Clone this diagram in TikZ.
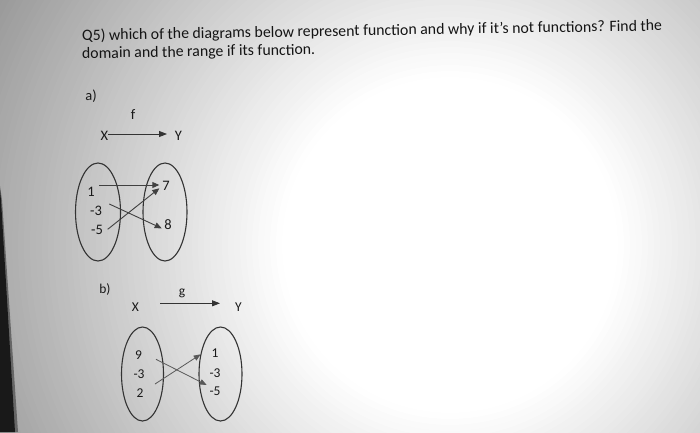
\documentclass[tikz,border=0pt]{standalone}
\usepackage{fontspec}
\setmainfont{Carlito}
\usetikzlibrary{arrows.meta}
\begin{document}
\begin{tikzpicture}[x=1pt,y=-1pt,
  title/.style={anchor=base west,inner sep=0pt,text=black!92,font=\fontsize{15.8}{18}\selectfont,rotate=0.97},
  lblA/.style={anchor=base,inner sep=0pt,text=black!90,font=\fontsize{14.5}{16}\selectfont},
  lblB/.style={anchor=base,inner sep=0pt,text=black!90,font=\fontsize{13.5}{15}\selectfont},
  setring/.style={draw=black!80,line width=1.1pt},
  mapA/.style={draw=black!75,line width=0.9pt,-{Triangle[length=7pt,width=6pt]}},
  mapB/.style={draw=black!65,line width=0.8pt,-{Triangle[length=7pt,width=5.5pt]}},
  headarrow/.style={draw=black!80,line width=0.9pt,-{Triangle[length=8pt,width=6pt]}}]
\useasboundingbox (0,0) rectangle (700,432);
% background
\begin{scope}
\clip (0,0) rectangle (700,432);
\foreach \r in {540,534,...,150}{
  \pgfmathsetmacro\g{min(42,max(0,(\r-170)*0.115))}
  \fill[black!\g] (450,245) circle (\r);
}
\fill[black!60] (0,186) -- (2,200) -- (18,432) -- (0,432) -- cycle;
\fill[black!90] (0,190) -- (1,200) -- (15,432) -- (0,432) -- cycle;
\end{scope}
% question
\node[title] (q1) at (82,40.5) {Q5) which of the diagrams below represent function and why if it’s not functions? Find the};
\node[title] (q2) at (82,58.5) {domain and the range if its function.};
% part a
\node[lblA] (pa) at (91,100) {a)};
\node[lblA] (fa) at (133,119) {f};
\node[lblA] (Xa) at (104.5,140) {X};
\node[lblA] (Ya) at (178.5,140) {Y};
\coordinate (fa0) at (108,134);
\coordinate (fa1) at (167,134);
\draw[headarrow] (fa0) -- (fa1);
\draw[setring] (98,212) ellipse (22.5 and 49);
\draw[setring] (165,212) ellipse (22 and 49);
\node[lblA] (a1) at (91,196) {1};
\node[lblA] (a3) at (96,215) {-3};
\node[lblA] (a5) at (97,234) {-5};
\node[lblA] (a7) at (166,190) {7};
\node[lblA] (a8) at (168,229) {8};
\draw[mapA] ([shift={(8.3,-11)}]a1.base) -- ([shift={(-6.7,-5)}]a7.base);
\draw[mapA] ([shift={(13.3,-11)}]a3.base) -- ([shift={(-6.3,-0.7)}]a8.base);
\draw[mapA] ([shift={(10.7,-4.7)}]a5.base) -- ([shift={(-6.7,-1.7)}]a7.base);
% part b
\node[lblB] (pb) at (105,293) {b)};
\node[lblB] (gb) at (182,295) {g};
\node[lblB] (Xb) at (135.5,311) {X};
\node[lblB] (Yb) at (238.5,311) {Y};
\coordinate (gb0) at (160,303.3);
\coordinate (gb1) at (220,303.3);
\draw[headarrow] (gb0) -- (gb1);
\draw[setring] (142.5,374) ellipse (21 and 47);
\draw[setring] (220.5,374) ellipse (21.5 and 47);
\node[lblB] (b9) at (138.5,359) {9};
\node[lblB] (b3) at (139,378) {-3};
\node[lblB] (b2) at (140,397) {2};
\node[lblB] (c1) at (215,357) {1};
\node[lblB] (c3) at (215,377) {-3};
\node[lblB] (c5) at (215,395) {-5};
\draw[mapB] ([shift={(17.5,0.3)}]b9.base) -- ([shift={(-8.3,-10)}]c5.base);
\draw[mapB] ([shift={(15,-13)}]b2.base) -- ([shift={(-14.3,-2.7)}]c1.base);
\end{tikzpicture}
\end{document}
